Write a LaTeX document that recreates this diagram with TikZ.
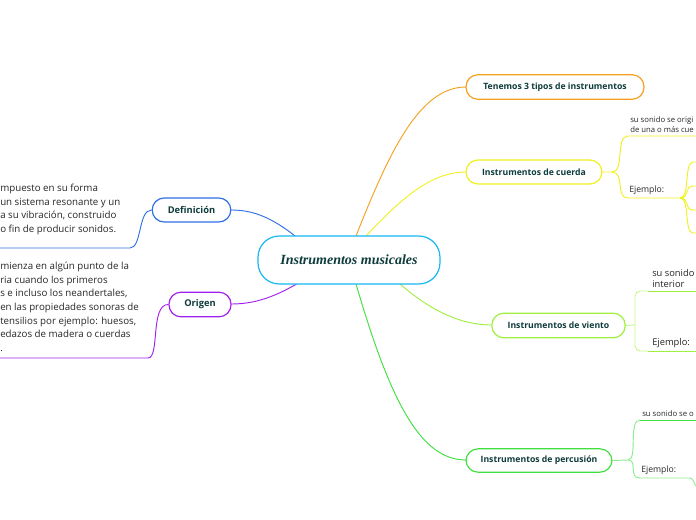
\documentclass[tikz,border=0pt]{standalone}
\usepackage{fontspec}
\setmainfont{Open Sans}
\newfontfamily\titlefont{Liberation Serif}
\definecolor{cblue}{HTML}{2F6FE8}
\definecolor{corange}{HTML}{F5A020}
\definecolor{cyel}{HTML}{F0F020}
\definecolor{cvien}{HTML}{A0F040}
\definecolor{cperc}{HTML}{40E040}
\definecolor{cpurp}{HTML}{A020F0}
\definecolor{ctxt}{HTML}{0E3B3B}
\begin{document}
\begin{tikzpicture}[x=0.75pt,y=-0.75pt,
  topic/.style={draw=#1,line width=0.9pt,rounded corners=9pt,fill=white,font=\bfseries\fontsize{6.5}{8}\selectfont,text=ctxt,inner sep=0pt},
  small/.style={font=\fontsize{6.5}{8}\selectfont,anchor=west,inner sep=0pt,text=black!85},
  ln/.style={line width=0.7pt}]
\useasboundingbox (0,0) rectangle (696,520);
\clip (0,0) rectangle (696,520);
% connectors from center
\draw[ln,corange] (356,236) .. controls (390,150) and (420,87) .. (466,87);
\draw[ln,cyel] (366,236) .. controls (400,200) and (430,172) .. (466,172);
\draw[ln,cvien] (400,284) .. controls (430,310) and (460,325) .. (492,325);
\draw[ln,cperc] (356,284) .. controls (390,400) and (420,460) .. (466,460);
\draw[ln,cblue] (300,240) .. controls (270,215) and (250,210) .. (231,210);
\draw[ln,cpurp] (300,282) .. controls (270,300) and (250,304) .. (231,304);
% center
\node[draw=cblue!50!cyan,line width=0.9pt,rounded corners=16pt,fill=white,minimum width=136.5pt,minimum height=36pt,inner sep=0pt,font=\titlefont\bfseries\itshape\fontsize{10.5}{12}\selectfont,text=ctxt] (c) at (349,260) {Instrumentos musicales};
% topics
\node[topic=corange,minimum width=133.5pt,minimum height=18.5pt] (t1) at (555,87) {Tenemos 3 tipos de instrumentos};
\node[topic=cyel,minimum width=102pt,minimum height=18pt] (t2) at (534,172) {Instrumentos de cuerda};
\node[topic=cvien,minimum width=100pt,minimum height=18.5pt] (t3) at (558.5,325.5) {Instrumentos de viento};
\node[topic=cperc,minimum width=109.5pt,minimum height=17.5pt] (t4) at (539,460.5) {Instrumentos de percusión};
\node[topic=cblue,minimum width=59pt,minimum height=18pt,font=\bfseries\fontsize{7}{8}\selectfont] (d) at (191.5,210) {Definición};
\node[topic=cpurp,minimum width=46.5pt,minimum height=18.5pt,font=\bfseries\fontsize{7}{8}\selectfont] (o) at (200,304.5) {Origen};
% definicion text
\node[small,font=\fontsize{7.3}{10.2}\selectfont,align=left,anchor=north west] (dt) at (0,184) {mpuesto en su forma\\un sistema resonante y un\\a su vibración, construido\\o fin de producir sonidos.};
\draw[ln,cblue] (0,248) -- (130,248) .. controls (142,248) and (138,210) .. (d.west);
\node[small,font=\fontsize{7.3}{10.2}\selectfont,align=left,anchor=north west] (ot) at (0,262) {mienza en algún punto de la\\ria cuando los primeros\\s e incluso los neandertales,\\en las propiedades sonoras de\\tensilios por ejemplo: huesos,\\edazos de madera o cuerdas\\.};
\draw[ln,cpurp] (0,358) -- (148,358) .. controls (160,358) and (150,304) .. (o.west);
% cuerda
\coordinate (k) at (612,172);
\draw[ln,cyel] (t2.east) -- (k) .. controls (625,172) and (615,136) .. (628,136) -- (696,136);
\draw[ln,cyel] (k) .. controls (625,172) and (615,198) .. (628,198) -- (680,198);
\node[small,align=left,font=\fontsize{5.8}{7.5}\selectfont,anchor=south west] (cs) at (630,133) {su sonido se origi\\de una o más cue};
\node[small,anchor=south west] (ce) at (629,195) {Ejemplo:};
\coordinate (k2) at (680,198);
\foreach \yy in {162,186,210,233}{
  \draw[ln,cyel] (k2) .. controls (690,198) and (684,\yy) .. (693,\yy) -- (696,\yy);}
% viento
\coordinate (v) at (635,325);
\draw[ln,cvien!60] (t3.east) -- (v);
\draw[ln,cvien!60,rounded corners=4pt] (648,291) -- (635,291) -- (635,351) -- (648,351);
\draw[ln,cvien] (648,291) -- (696,291);
\draw[ln,cvien] (648,351) -- (696,351);
\node[small,align=left,font=\fontsize{7}{8.5}\selectfont,anchor=south west] (vs) at (652,288) {su sonido\\interior};
\node[small,font=\fontsize{7}{8}\selectfont,anchor=south west] (ve) at (652,348) {Ejemplo:};
% percusion
\coordinate (p) at (628,460);
\draw[ln,cperc!60] (t4.east) -- (p) .. controls (638,460) and (628,420) .. (640,420);
\draw[ln,cperc] (640,420) -- (696,420);
\draw[ln,cperc!60] (p) .. controls (638,460) and (628,478) .. (640,478) -- (690,478) .. controls (694,478) and (694,485) .. (696,486);
\node[small,font=\fontsize{5.8}{7}\selectfont,anchor=south west] (ps) at (642,417) {su sonido se o};
\node[small,anchor=south west] (pe) at (641,475) {Ejemplo:};
\end{tikzpicture}
\end{document}
